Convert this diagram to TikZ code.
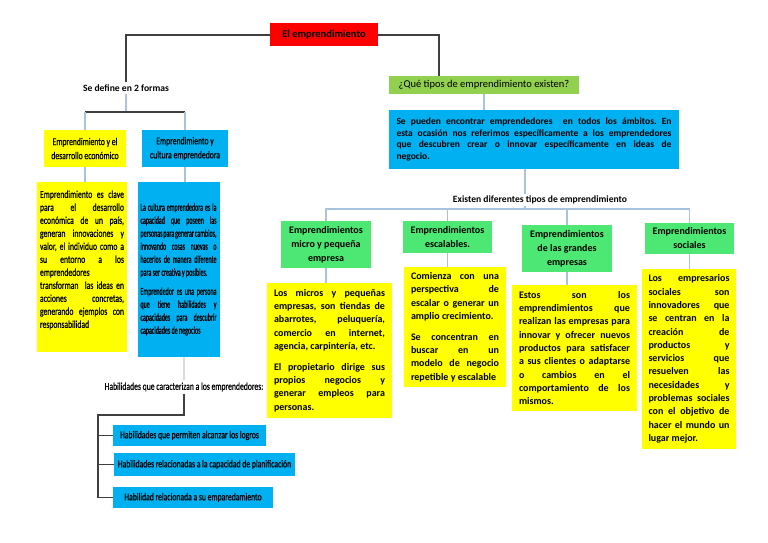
\documentclass[tikz,border=0pt]{standalone}
\usepackage{fontspec}
\setmainfont{Carlito}
\newfontfamily\narrowfont[FakeStretch=0.73,FakeBold=0.7]{Carlito}
\newfontfamily\squeezefont[FakeStretch=0.57,FakeBold=0.7]{Carlito}
\usetikzlibrary{positioning,calc}
\definecolor{mapred}{HTML}{FF0000}
\definecolor{mapyellow}{HTML}{FFFF00}
\definecolor{mapblue}{HTML}{00B0F0}
\definecolor{mapgreen}{HTML}{4DE873}
\definecolor{maplime}{HTML}{92D050}
\definecolor{inkdark}{HTML}{3F3F3F}
\definecolor{inklight}{HTML}{A8C2E0}
\definecolor{inkfaint}{HTML}{DCDCDC}
\frenchspacing

\begin{document}
\begin{tikzpicture}[
    x=1pt, y=-1pt,
    font=\fontsize{10}{12}\selectfont,
    dark/.style={draw=inkdark, line width=1.1pt},
    light/.style={draw=inklight, line width=1.1pt},
    faint/.style={draw=inkfaint, line width=1.3pt},
    topic/.style={fill=mapred, text=black, minimum width=108pt, minimum height=23pt,
                  inner sep=0pt, font=\fontsize{10.5}{12}\selectfont\bfseries},
    ask/.style={fill=maplime, minimum width=190pt, minimum height=18pt,
                inner sep=0pt, font=\fontsize{10.5}{12}\selectfont},
    lead/.style={inner sep=2pt, font=\fontsize{9.6}{12}\selectfont\bfseries},
    intro/.style={fill=mapblue, text width=275pt, inner xsep=7.5pt, inner ysep=2pt,
                  minimum height=59pt, align=justify,
                  font=\fontsize{9.5}{11.8}\selectfont\bfseries},
    kind/.style={fill=mapgreen, inner sep=0pt, minimum width=90pt, align=center,
                 font=\fontsize{10}{14}\selectfont\bfseries},
    fact/.style={fill=mapyellow, inner xsep=7pt, inner ysep=2pt, align=justify,
                 font=\fontsize{10}{13.3}\selectfont\bfseries},
    form/.style={inner sep=0pt, minimum height=37pt, align=center,
                 font=\fontsize{10.5}{14}\narrowfont},
    story/.style={inner xsep=3pt, inner ysep=2pt, align=justify,
                  font=\fontsize{10.5}{13}\narrowfont},
    skill/.style={fill=mapblue, inner sep=0pt, minimum height=21pt,
                  font=\fontsize{10.5}{11}\narrowfont},
]
\path[use as bounding box, fill=white] (0,0) rectangle (768,543);

% =====================================================================
% title
% =====================================================================
\node[topic] (root) at (324,35) {El emprendimiento};

% =====================================================================
% left branch: two forms
% =====================================================================
\node[lead] (def) at (126,88) {Se define en 2 formas};
\coordinate (fork) at (126,112);

\node[form, fill=mapyellow, minimum width=82pt] (econ) at (85,148.5)
    {Emprendimiento y el\\desarrollo económico};
\node[form, fill=mapblue, minimum width=86pt] (cult) at (185,148.5)
    {Emprendimiento y\\cultura emprendedora};

\node[story, fill=mapyellow, text width=84pt, minimum height=170pt] (econtxt) at (82,267)
    {Emprendimiento es clave\linebreak para el desarrollo\linebreak
     económica de un país,\linebreak generan innovaciones y\linebreak
     valor, el individuo como a\linebreak su entorno a los\linebreak
     emprendedores\\ transforman\ \ las ideas en\linebreak
     acciones concretas,\linebreak generando ejemplos con\linebreak
     responsabilidad\par\kern14pt};
\node[story, fill=mapblue, text width=76pt, minimum height=175pt,
      font=\fontsize{10.5}{13}\squeezefont] (culttxt) at (178.5,269.5)
    {La cultura emprendedora es la\linebreak capacidad que poseen las\linebreak
     personas para generar cambios,\linebreak innovando cosas nuevas o\linebreak
     hacerlos de manera diferente\linebreak para ser creativa y posibles.\par\vspace{6pt}
     Emprendedor es una persona\linebreak que tiene habilidades y\linebreak
     capacidades para descubrir\linebreak capacidades de negocios};

% skills list
\node[lead, font=\fontsize{10.5}{11}\narrowfont] (habs) at (184,387)
    {Habilidades que caracterizan a los emprendedores:};
\coordinate (rail) at (98,415);
\node[skill, minimum width=153pt] (hab1) at (189.5,435.5)
    {Habilidades que permiten alcanzar los logros};
\node[skill, minimum width=181pt, minimum height=23pt] (hab2) at (204.5,464.5)
    {Habilidades relacionadas a la capacidad de planificación};
\node[skill, minimum width=160pt] (hab3) at (193,497.5)
    {Habilidad relacionada a su emparedamiento};

% =====================================================================
% right branch: kinds of entrepreneurship
% =====================================================================
\node[ask] (ask) at (484,85) {¿Qué tipos de emprendimiento existen?};
\node[intro] (ambit) at (534,139.5)
    {Se pueden encontrar emprendedores\ \ en todos los ámbitos. En\linebreak
     esta ocasión nos referimos específicamente a los emprendedores\linebreak
     que descubren crear o innovar específicamente en ideas de\linebreak
     negocio.};
\node[lead] (kinds) at (540,200) {Existen diferentes tipos de emprendimiento};
\coordinate (hub) at (525,209);

\node[kind, minimum height=47pt] (micro) at (326,244.5)
    {Emprendimientos\\micro y pequeña\\empresa};
\node[kind, minimum width=89pt, minimum height=32pt] (scal) at (447.5,237)
    {Emprendimientos\\escalables.};
\node[kind, minimum height=47pt] (big) at (567,248.5)
    {Emprendimientos\\de las grandes\\empresas};
\node[kind, minimum width=89pt, minimum height=31pt] (social) at (689.5,238.5)
    {Emprendimientos\\sociales};

\node[fact, text width=111pt, minimum height=135pt] (microtxt) at (329.5,350.5)
    {Los micros y pequeñas\linebreak empresas, son tiendas de\linebreak
     abarrotes, peluquería,\linebreak comercio en internet,\linebreak
     agencia, carpintería, etc.\par\vspace{7.5pt}
     El propietario dirige sus\linebreak propios negocios y\linebreak
     generar empleos para\linebreak personas.};
\node[fact, text width=88pt, minimum height=120pt] (scaltxt) at (455,327)
    {Comienza con una\linebreak perspectiva de\linebreak
     escalar o generar un\linebreak amplio crecimiento.\par\vspace{7.5pt}
     Se concentran en\linebreak buscar en un\linebreak
     modelo de negocio\linebreak repetible y escalable};
\node[fact, text width=111pt, minimum height=126pt] (bigtxt) at (574.5,348)
    {Estos son los\linebreak emprendimientos que\linebreak
     realizan las empresas para\linebreak innovar y ofrecer nuevos\linebreak
     productos para satisfacer\linebreak a sus clientes o adaptarse\linebreak
     o cambios en el\linebreak comportamiento de los\linebreak mismos.};
\node[fact, text width=81pt, inner xsep=6.5pt, minimum height=180pt] (socialtxt) at (689,359)
    {Los empresarios\linebreak sociales son\linebreak innovadores que\linebreak
     se centran en la\linebreak creación de\linebreak productos y\linebreak
     servicios que\linebreak resuelven las\linebreak necesidades y\linebreak
     problemas sociales\linebreak con el objetivo de\linebreak
     hacer el mundo un\linebreak lugar mejor.};

% =====================================================================
% connectors
% =====================================================================
\draw[dark] (root.west) -| (def.north);
\draw[dark] (root.east) -| ([xshift=-45pt]ask.north);

\draw[light] (def.south) -- (fork);
\draw[dark] (fork -| econ.north) -- (fork -| cult.north);
\draw[light] (econ.north) -- (econ.north |- fork);
\draw[light] (cult.north) -- (cult.north |- fork);
\draw[light] (econ.south) -- (econ.south |- econtxt.north);
\draw[light] (cult.south) -- (cult.south |- culttxt.north);
\draw[faint] (habs.north) -- (habs.north |- culttxt.south);
\draw[dark] (habs.south) |- (rail) -- (rail |- hab3.west) -- (hab3.west);
\draw[dark] (rail |- hab1.west) -- (hab1.west);
\draw[dark] (rail |- hab2.west) -- (hab2.west);

\draw[light] (ask.south) -- (ask.south |- ambit.north);
\draw[light] (hub |- ambit.south) -- (hub |- kinds.north);
\draw[light] (hub |- kinds.south) -- (hub);
\draw[light] (micro.north) |- (hub) -| (social.north);
\draw[light] (scal.north) -- (scal.north |- hub);
\draw[light] (big.north) -- (big.north |- hub);
\draw[light] (micro.south) -- (micro.south |- microtxt.north);
\draw[light] (scal.south) -- (scal.south |- scaltxt.north);
\draw[light] (big.south) -- (big.south |- bigtxt.north);
\draw[light] (social.south) -- (social.south |- socialtxt.north);

\end{tikzpicture}
\end{document}
